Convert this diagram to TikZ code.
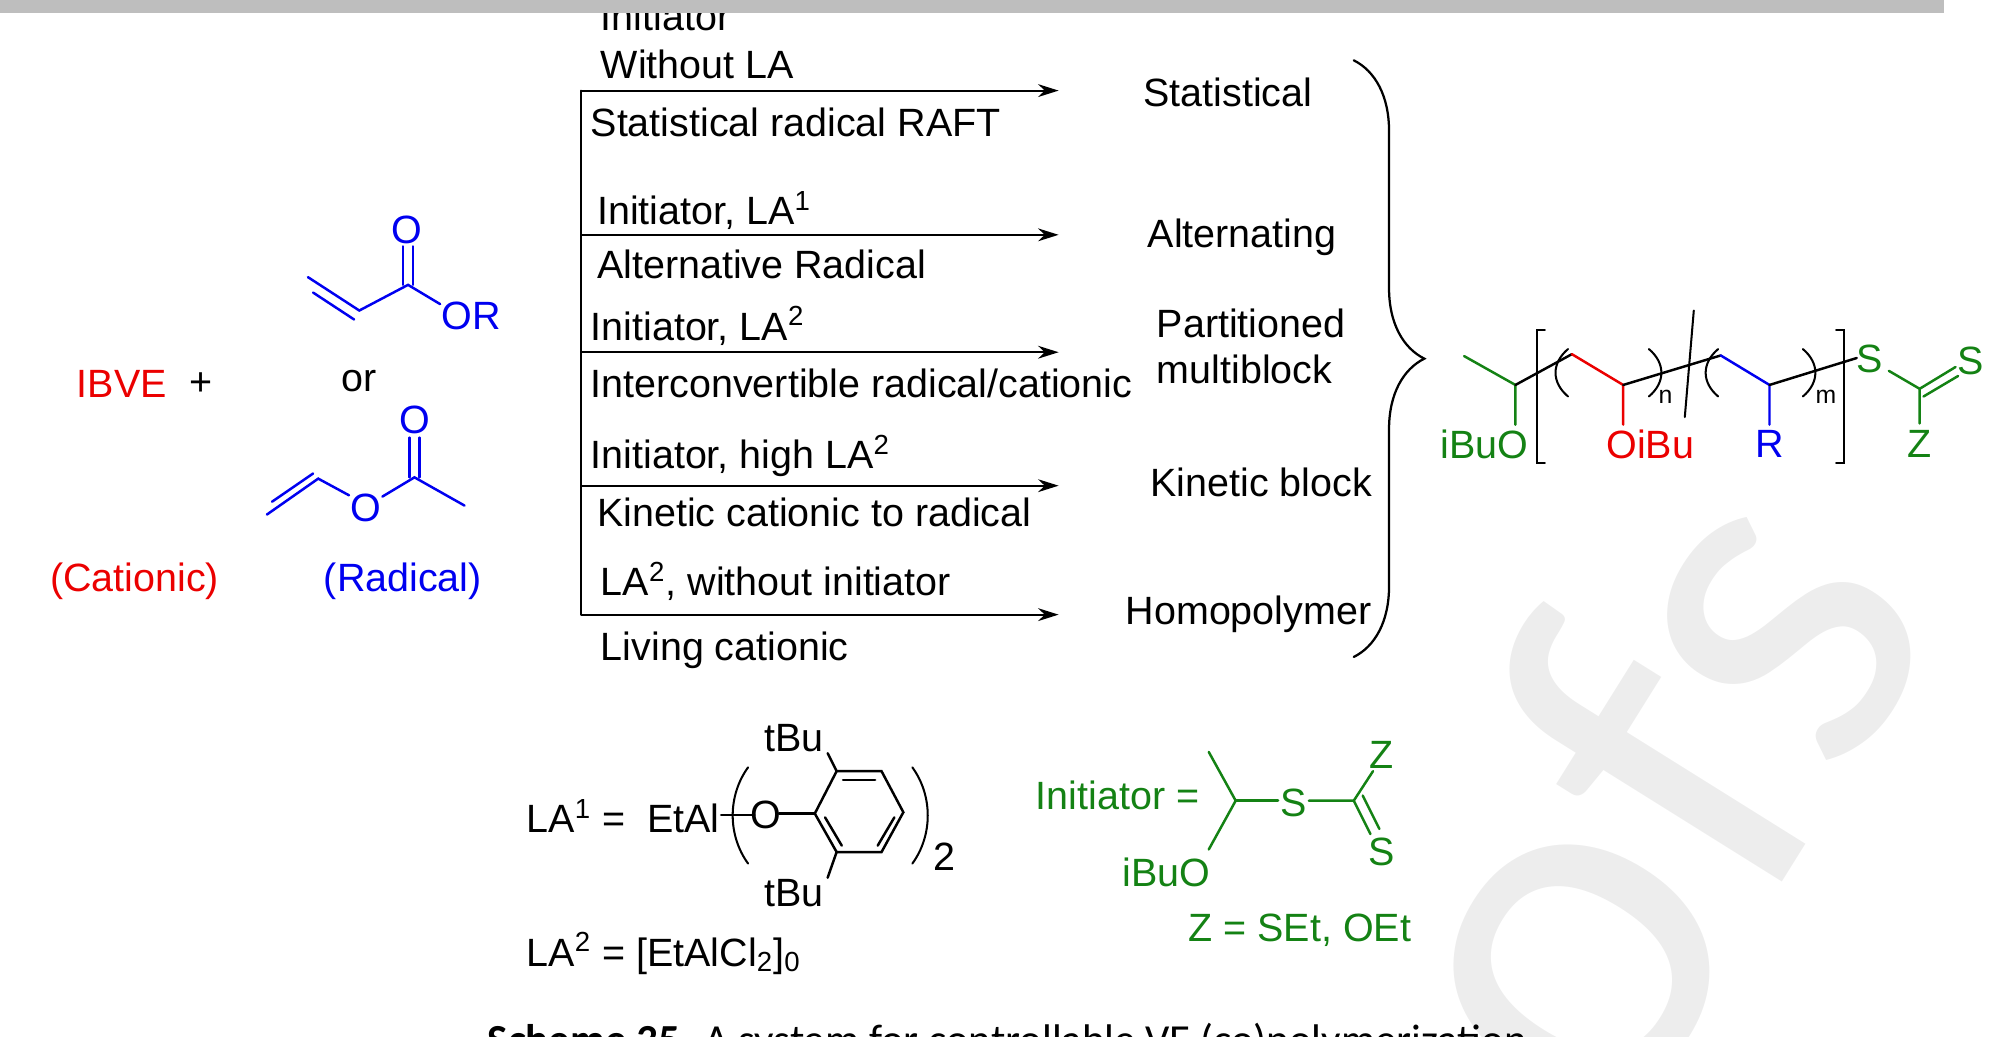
\documentclass[tikz,border=0pt]{standalone}
\usepackage{fontspec}
\setmainfont{Liberation Sans}
\newfontfamily\capfont{Carlito}
\usetikzlibrary{arrows.meta,decorations.pathreplacing}
\definecolor{cred}{RGB}{235,0,0}
\definecolor{cblue}{RGB}{0,0,240}
\definecolor{cgreen}{RGB}{20,130,20}
\definecolor{barg}{RGB}{190,190,190}
\begin{document}
\begin{tikzpicture}[x=0.02cm,y=-0.02cm,
  every node/.style={font=\fontsize{17.5pt}{20pt}\selectfont,inner sep=0pt},
  lab/.style={anchor=west},
  sub/.style={font=\fontsize{11pt}{12pt}\selectfont},
  bond/.style={line width=1.1pt},
  arr/.style={line width=0.9pt,-{Stealth[length=0.32cm,width=0.2cm]}},
  line cap=round]
\useasboundingbox (0,0) rectangle (1568,808);
% watermark
\node[text=black!7,font=\capfont\fontsize{230pt}{230pt}\selectfont,rotate=58] (wm) at (1150,870) {proofs};
% top bar
\fill[barg] (0,0) rectangle (1515,10);
% arrow labels
\node[lab] (t0) at (468,13) {Initiator};
\fill[barg] (440,0) rectangle (640,10);
\node[lab] (t1) at (468,50) {Without LA};
\node[lab] (t2) at (460,95) {Statistical radical RAFT};
\node[lab] (t3) at (465,164) {Initiator, LA\textsuperscript{1}};
\node[lab] (t4) at (465,206) {Alternative Radical};
\node[lab] (t5) at (460,254) {Initiator, LA\textsuperscript{2}};
\node[lab] (t6) at (460,299) {Interconvertible radical/cationic};
\node[lab] (t7) at (460,355) {Initiator, high LA\textsuperscript{2}};
\node[lab] (t8) at (465,399) {Kinetic cationic to radical};
\node[lab] (t9) at (468,453) {LA\textsuperscript{2}, without initiator};
\node[lab] (t10) at (468,507) {Living cationic};
% arrows
\coordinate (v1) at (453,70.6); \coordinate (e1) at (825,70.6);
\coordinate (v2) at (453,183); \coordinate (e2) at (825,183);
\coordinate (v3) at (453,274.5); \coordinate (e3) at (825,274.5);
\coordinate (v4) at (453,378.5); \coordinate (e4) at (825,378.5);
\coordinate (v5) at (453,479); \coordinate (e5) at (825,479);
\draw[line width=0.9pt] (v1) -- (v5);
\foreach \i in {1,...,5} \draw[arr] (v\i) -- (e\i);
% results
\node (r1) at (957,72) {Statistical};
\node (r2) at (968,185) {Alternating};
\node (r3) at (975,252) {Partitioned};
\node (r3b) at (970,288) {multiblock};
\node (r4) at (983,376) {Kinetic block};
\node (r5) at (973,479) {Homopolymer};
\coordinate (bt) at (1055,47); \coordinate (bb) at (1055,512);
\draw[line width=1pt,decorate,decoration={brace,amplitude=1.1cm}] (bt) -- (bb);
% left side
\node[text=cred] (ibve) at (95,299) {IBVE};
\node (plus) at (157,299) {+};
\node (or) at (280,297) {or};
\node[text=cred] (cat) at (105,453) {(Cationic)};
\node[text=cblue] (rad) at (314,453) {(Radical)};
% acrylate
\begin{scope}[cblue,bond]
\node[text=cblue] (ao) at (317,179) {O};
\node[text=cblue] (aor) at (367,246) {OR};
\draw (240,216) -- (280,242) -- (318,222) -- (343,237);
\draw (244,228) -- (276,249);
\draw (314,222) -- (314,192); \draw (322,222) -- (322,192);
\node[text=cblue] (vo) at (285,396) {O};
\node[text=cblue] (vo2) at (323,327) {O};
\draw (208,401) -- (248,373) -- (272,386);
\draw (212,391) -- (244,369);
\draw (298,387) -- (323,372) -- (362,394);
\draw (319,372) -- (319,341); \draw (327,372) -- (327,341);
\end{scope}
% polymer
\begin{scope}[bond]
\draw[cgreen] (1141,277.5) -- (1181,300) -- (1181,331);
\node[text=cgreen] (pibuo) at (1157,346) {iBuO};
\draw (1181,300) -- (1225,276);
\draw[cred] (1225,276) -- (1265,300) -- (1265,331);
\node[text=cred] (poibu) at (1286,346) {OiBu};
\draw (1265,300) -- (1341,277);
\draw[cblue] (1341,277) -- (1379,300) -- (1379,331);
\node[text=cblue] (pr) at (1379,346) {R};
\draw (1379,300) -- (1447,279);
\node[text=cgreen] (ps1) at (1457,280) {S};
\draw[cgreen] (1472,289) -- (1496,303) -- (1496,330);
\draw[cgreen] (1496,303) -- (1524,286);
\draw[cgreen] (1499,309) -- (1526,293);
\node[text=cgreen] (ps2) at (1536,281) {S};
\node[text=cgreen] (pz) at (1496,346) {Z};
\draw[line width=0.9pt] (1204,257) -- (1198,257) -- (1198,361) -- (1204,361);
\draw[line width=0.9pt] (1431,257) -- (1437,257) -- (1437,361) -- (1431,361);
\draw[line width=0.9pt] (1222,272) .. controls (1209,283) and (1209,298) .. (1222,309);
\draw[line width=0.9pt] (1285,272) .. controls (1298,283) and (1298,298) .. (1285,309);
\draw[line width=0.9pt] (1339,272) .. controls (1326,283) and (1326,298) .. (1339,309);
\draw[line width=0.9pt] (1405,272) .. controls (1418,283) and (1418,298) .. (1405,309);
\draw[line width=0.9pt] (1320,242) -- (1313,325);
\node[sub] (pn) at (1298,309) {n};
\node[sub] (pm) at (1423,309) {m};
\end{scope}
% LA1
\node[anchor=west] (la1) at (410,636) {LA\textsuperscript{1} =\ \ EtAl};
\node (lao) at (597,635) {O};
\begin{scope}[bond]
\draw (562,635) -- (588,635);
\draw (607,634) -- (635,634);
\draw (635,634) -- (652,601) -- (687,601) -- (704,633) -- (687,664) -- (652,664) -- cycle;
\draw (657,608) -- (682,608);
\draw (697,637) -- (684,659);
\draw (643,637) -- (656,659);
\draw (652,601) -- (645,587);
\draw (652,664) -- (645,684);
\end{scope}
\node (tb1) at (619,575) {tBu};
\node (tb2) at (619,696) {tBu};
\draw[line width=0.9pt] (583,598) .. controls (567,620) and (567,651) .. (583,673);
\draw[line width=0.9pt] (711,598) .. controls (727,620) and (727,651) .. (711,673);
\node (two) at (736,668) {2};
\node[anchor=west] (la2) at (410,743) {LA\textsuperscript{2} = [EtAlCl\textsubscript{2}]\textsubscript{0}};
% initiator
\node[anchor=west,text=cgreen] (ini) at (807,620) {Initiator =};
\begin{scope}[cgreen,bond]
\draw (942,586) -- (963,624) -- (942,662);
\draw (963,624) -- (996,624);
\node[text=cgreen] (is) at (1008,626) {S};
\draw (1020,624) -- (1055,624) -- (1070,601);
\draw (1055,624) -- (1068,650); \draw (1062,620) -- (1075,646);
\node[text=cgreen] (iz) at (1077,588) {Z};
\node[text=cgreen] (is2) at (1077,664) {S};
\node[text=cgreen] (iibuo) at (909,680) {iBuO};
\node[text=cgreen] (zdef) at (1013,725) {Z = SEt, OEt};
\end{scope}
% caption
\node[anchor=north,font=\capfont\fontsize{19pt}{22pt}\selectfont] (cap) at (785,797) {\textbf{Scheme 35.} A system for controllable VE (co)polymerization};
\end{tikzpicture}
\end{document}
